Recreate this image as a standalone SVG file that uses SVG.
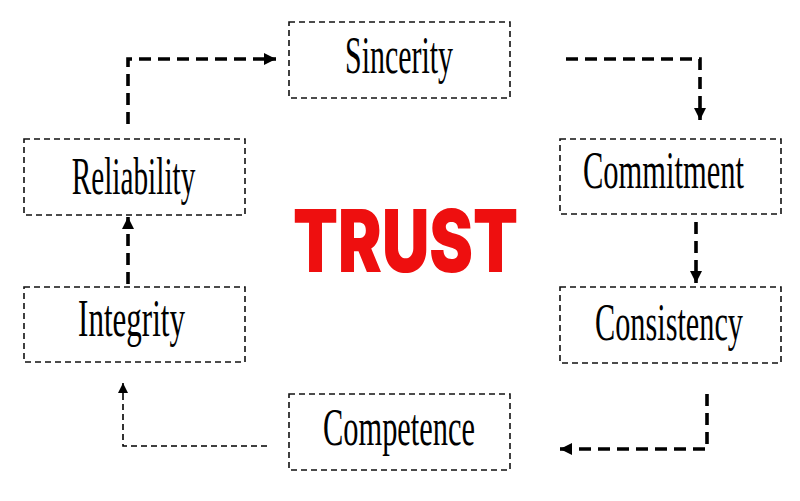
<svg xmlns="http://www.w3.org/2000/svg" width="800" height="501" viewBox="0 0 800 501">
<style>
.box{fill:#fff;stroke:#111;stroke-width:1.6;stroke-dasharray:6 4}
.lbl{font-family:"Liberation Serif","Times New Roman",serif;font-size:52px;fill:#000;text-anchor:middle}
.thick{fill:none;stroke:#000;stroke-width:3.6;stroke-dasharray:12 7}
.thin{fill:none;stroke:#000;stroke-width:1.6;stroke-dasharray:6 4}
.title{font-family:Inter,"Liberation Sans",sans-serif;font-weight:900;font-size:86px;fill:#ee0f0f}
</style>
<defs>
<marker id="ah" markerUnits="userSpaceOnUse" markerWidth="12" markerHeight="12" refX="12" refY="6" orient="auto">
<path d="M0,0 L12,6 L0,12 Z" fill="#000"/>
</marker>
<marker id="ahs" markerUnits="userSpaceOnUse" markerWidth="10" markerHeight="10" refX="10" refY="5" orient="auto">
<path d="M0,0 L10,5 L0,10 Z" fill="#000"/>
</marker>
</defs>
<rect width="800" height="501" fill="#fff"/>
<g id="connectors">
<path class="thick" d="M128,124 L128,59 L264,59" />
<path d="M264,59 L276,59" stroke="#000" stroke-width="3.6" marker-end="url(#ah)"/>
<path class="thick" d="M566,59 L700,59 L700,108"/>
<path d="M700,108 L700,120" stroke="#000" stroke-width="3.6" marker-end="url(#ah)"/>
<path class="thick" d="M696,222 L696,271"/>
<path d="M696,271 L696,283" stroke="#000" stroke-width="3.6" marker-end="url(#ah)"/>
<path class="thick" d="M707,394 L707,449 L572,449"/>
<path d="M572,449 L560,449" stroke="#000" stroke-width="3.6" marker-end="url(#ah)"/>
<path class="thin" d="M267,446 L123,446 L123,393"/>
<path d="M123,394 L123,383" stroke="#000" stroke-width="1.6" marker-end="url(#ahs)"/>
<path class="thick" d="M128,284 L128,229"/>
<path d="M128,229 L128,217" stroke="#000" stroke-width="3.6" marker-end="url(#ah)"/>
</g>
<g id="sincerity">
<rect class="box" x="289" y="22" width="221" height="76"/>
<text class="lbl" transform="translate(399,73) scale(0.575,1)">Sincerity</text>
</g>
<g id="commitment">
<rect class="box" x="560" y="139" width="221" height="75"/>
<text class="lbl" transform="translate(663.5,188) scale(0.587,1)">Commitment</text>
</g>
<g id="consistency">
<rect class="box" x="560" y="287" width="221" height="76"/>
<text class="lbl" transform="translate(669,340) scale(0.582,1)">Consistency</text>
</g>
<g id="competence">
<rect class="box" x="289" y="394" width="221" height="76"/>
<text class="lbl" transform="translate(399,445) scale(0.585,1)">Competence</text>
</g>
<g id="integrity">
<rect class="box" x="24" y="287" width="221" height="75"/>
<text class="lbl" transform="translate(131.5,336) scale(0.597,1)">Integrity</text>
</g>
<g id="reliability">
<rect class="box" x="24" y="139" width="221" height="76"/>
<text class="lbl" transform="translate(133.5,194) scale(0.563,1)">Reliability</text>
</g>
<g id="trust">
<text class="title" x="293" y="272" textLength="225" lengthAdjust="spacingAndGlyphs">TRUST</text>
</g>
</svg>
